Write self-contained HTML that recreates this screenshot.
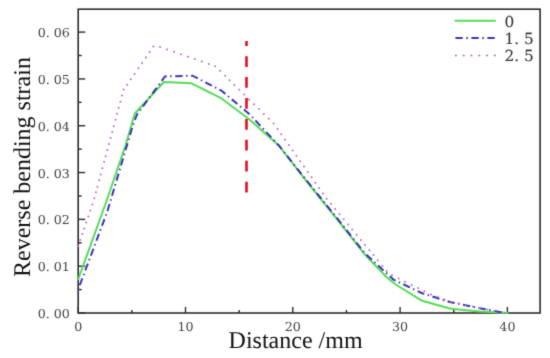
<!DOCTYPE html>
<html><head><meta charset="utf-8"><style>
html,body{margin:0;padding:0;background:#fff;}
body{width:550px;height:358px;overflow:hidden;}
svg{display:block;}
text{text-rendering:geometricPrecision;}
.tl{font-family:"DejaVu Serif",serif;font-size:12.3px;fill:#444;}
.lg{font-family:"DejaVu Serif",serif;font-size:15.3px;fill:#333;stroke:#333;stroke-width:0.1px;}
.tt{font-family:"Liberation Serif",serif;font-size:24px;fill:#111;}
</style></head><body>
<svg width="550" height="358" viewBox="0 0 550 358">
<defs><filter id="soft" filterUnits="userSpaceOnUse" x="0" y="0" width="550" height="358" color-interpolation-filters="sRGB"><feConvolveMatrix order="3" kernelMatrix="1 2 1 2 20 2 1 2 1" divisor="32" edgeMode="duplicate"/></filter></defs>
<g filter="url(#soft)">
<rect x="0" y="0" width="550" height="358" fill="#fff"/>
<rect x="78.2" y="9.2" width="461.9" height="303.8" fill="none" stroke="#2c2c2c" stroke-width="1.6"/>
<line x1="78.2" y1="313.00" x2="85.20" y2="313.00" stroke="#2c2c2c" stroke-width="1.4"/>
<line x1="78.2" y1="289.59" x2="81.70" y2="289.59" stroke="#2c2c2c" stroke-width="1.4"/>
<line x1="78.2" y1="266.18" x2="85.20" y2="266.18" stroke="#2c2c2c" stroke-width="1.4"/>
<line x1="78.2" y1="242.78" x2="81.70" y2="242.78" stroke="#2c2c2c" stroke-width="1.4"/>
<line x1="78.2" y1="219.37" x2="85.20" y2="219.37" stroke="#2c2c2c" stroke-width="1.4"/>
<line x1="78.2" y1="195.96" x2="81.70" y2="195.96" stroke="#2c2c2c" stroke-width="1.4"/>
<line x1="78.2" y1="172.55" x2="85.20" y2="172.55" stroke="#2c2c2c" stroke-width="1.4"/>
<line x1="78.2" y1="149.14" x2="81.70" y2="149.14" stroke="#2c2c2c" stroke-width="1.4"/>
<line x1="78.2" y1="125.73" x2="85.20" y2="125.73" stroke="#2c2c2c" stroke-width="1.4"/>
<line x1="78.2" y1="102.33" x2="81.70" y2="102.33" stroke="#2c2c2c" stroke-width="1.4"/>
<line x1="78.2" y1="78.92" x2="85.20" y2="78.92" stroke="#2c2c2c" stroke-width="1.4"/>
<line x1="78.2" y1="55.51" x2="81.70" y2="55.51" stroke="#2c2c2c" stroke-width="1.4"/>
<line x1="78.2" y1="32.10" x2="85.20" y2="32.10" stroke="#2c2c2c" stroke-width="1.4"/>
<line x1="78.20" y1="313.0" x2="78.20" y2="307.00" stroke="#2c2c2c" stroke-width="1.4"/>
<line x1="131.85" y1="313.0" x2="131.85" y2="310.00" stroke="#2c2c2c" stroke-width="1.4"/>
<line x1="185.50" y1="313.0" x2="185.50" y2="307.00" stroke="#2c2c2c" stroke-width="1.4"/>
<line x1="239.15" y1="313.0" x2="239.15" y2="310.00" stroke="#2c2c2c" stroke-width="1.4"/>
<line x1="292.80" y1="313.0" x2="292.80" y2="307.00" stroke="#2c2c2c" stroke-width="1.4"/>
<line x1="346.45" y1="313.0" x2="346.45" y2="310.00" stroke="#2c2c2c" stroke-width="1.4"/>
<line x1="400.10" y1="313.0" x2="400.10" y2="307.00" stroke="#2c2c2c" stroke-width="1.4"/>
<line x1="453.75" y1="313.0" x2="453.75" y2="310.00" stroke="#2c2c2c" stroke-width="1.4"/>
<line x1="507.40" y1="313.0" x2="507.40" y2="307.00" stroke="#2c2c2c" stroke-width="1.4"/>
<polyline points="78.0,280.0 106.7,200.5 125.5,145.5 134.8,113.5 163.9,82.0 191.5,83.3 220.5,97.8 249.5,119.5 278.8,145.5 307.4,182.3 336.1,218.0 364.8,254.5 387.0,277.5 395.0,284.0 422.1,300.8 450.8,308.7 479.5,311.4 508.2,312.9" fill="none" stroke="#55dc55" stroke-width="2" stroke-linejoin="round"/>
<path d="M78.02 289.96 L78.52 288.60M79.77 285.27 L82.32 278.43M83.56 275.11 L84.07 273.75M85.31 270.42 L87.86 263.58M89.11 260.26 L89.61 258.90M90.86 255.57 L93.41 248.74M94.65 245.41 L95.16 244.05M96.40 240.73 L98.95 233.89M100.20 230.56 L100.70 229.20M101.94 225.88 L104.50 219.04M105.74 215.71 L106.25 214.35M107.49 211.03 L107.50 211.00 L109.57 204.03M110.58 200.63 L110.99 199.24M112.00 195.83 L114.07 188.83M115.08 185.43 L115.49 184.04M116.50 180.64 L118.58 173.64M119.59 170.24 L120.00 168.84M121.01 165.44 L123.08 158.44M124.09 155.04 L124.51 153.65M125.51 150.25 L127.59 143.25M128.60 139.84 L129.01 138.45M130.02 135.05 L132.10 128.05M133.13 124.66 L133.65 123.30M134.91 119.98 L137.00 114.50 L137.85 113.35M139.95 110.49 L140.81 109.32M142.91 106.46 L147.23 100.57M149.34 97.71 L150.20 96.54M152.30 93.68 L156.62 87.80M158.72 84.94 L159.58 83.77M161.68 80.91 L165.00 76.40 L166.70 76.36M170.25 76.27 L171.70 76.23M175.25 76.14 L182.54 75.95M186.09 75.86 L187.54 75.83M191.09 75.74 L192.50 75.70 L197.74 78.40M200.89 80.03 L202.18 80.69M205.34 82.32 L211.82 85.66M214.98 87.29 L216.27 87.95M219.42 89.58 L221.40 90.60 L225.28 93.87M227.99 96.16 L229.10 97.10M231.82 99.38 L237.40 104.09M240.11 106.38 L241.22 107.31M243.93 109.60 L249.52 114.31M252.00 116.83 L252.99 117.89M255.42 120.49 L260.40 125.82M262.83 128.41 L263.82 129.47M266.24 132.07 L271.23 137.40M273.65 139.99 L274.64 141.05M277.06 143.64 L278.80 145.50 L281.76 149.23M283.97 152.01 L284.87 153.14M287.08 155.92 L291.62 161.64M293.83 164.42 L294.73 165.55M296.94 168.33 L301.48 174.05M303.69 176.83 L304.59 177.96M306.80 180.74 L307.40 181.50 L311.38 186.42M313.61 189.18 L314.52 190.31M316.76 193.07 L321.35 198.75M323.58 201.51 L324.49 202.64M326.72 205.40 L331.31 211.08M333.54 213.84 L334.45 214.96M336.68 217.73 L341.21 223.46M343.41 226.24 L344.31 227.38M346.51 230.16 L351.04 235.89M353.24 238.67 L354.14 239.81M356.34 242.60 L360.87 248.32M363.07 251.11 L363.97 252.25M366.43 254.79 L371.81 259.72M374.43 262.12 L375.49 263.10M378.11 265.50 L383.49 270.43M386.11 272.83 L387.18 273.81M389.80 276.21 L393.50 279.60 L395.56 280.58M398.76 282.10 L400.07 282.73M403.28 284.25 L409.87 287.39M413.08 288.91 L414.39 289.53M417.59 291.06 L422.10 293.20 L424.30 293.90M427.69 294.97 L429.07 295.41M432.45 296.48 L439.41 298.69M442.79 299.76 L444.18 300.20M447.56 301.27 L450.80 302.30 L454.62 303.09M458.10 303.80 L459.52 304.09M463.00 304.81 L470.15 306.28M473.62 306.99 L475.04 307.28M478.52 308.00 L479.50 308.20 L485.70 309.34M489.19 309.99 L490.61 310.25M494.11 310.89 L501.28 312.22M504.78 312.86 L505.00 312.90" fill="none" stroke="#3c34bc" stroke-width="2" />
<path d="M78.2 246.1h.01M80.2 240.1h.01M82.3 233.9h.01M84.2 228.4h.01M86.2 222.5h.01M88.3 216.4h.01M90.3 210.6h.01M92.4 204.6h.01M94.3 198.3h.01M95.9 192.3h.01M97.4 186.7h.01M99.2 180.2h.01M100.8 174.4h.01M102.4 168.2h.01M104.1 162.1h.01M105.7 156.2h.01M107.3 150.0h.01M108.9 144.1h.01M110.6 137.9h.01M112.2 131.9h.01M113.8 125.9h.01M115.5 119.8h.01M117.1 113.8h.01M118.7 107.7h.01M120.4 101.7h.01M122.0 95.6h.01M123.7 89.6h.01M127.1 84.7h.01M130.9 79.2h.01M134.5 74.0h.01M138.4 68.3h.01M142.1 62.9h.01M145.9 57.5h.01M149.6 52.1h.01M153.4 46.6h.01M160.0 47.1h.01M167.0 49.4h.01M174.0 51.8h.01M181.0 54.3h.01M187.9 56.7h.01M194.8 59.1h.01M201.8 61.5h.01M208.8 64.0h.01M215.2 66.2h.01M220.0 70.8h.01M225.2 75.8h.01M229.5 80.2h.01M234.4 85.0h.01M239.3 89.8h.01M244.2 94.6h.01M249.1 99.5h.01M254.0 104.3h.01M258.9 109.1h.01M263.8 114.0h.01M268.7 118.7h.01M273.6 123.6h.01M277.5 128.9h.01M281.2 134.2h.01M285.0 139.6h.01M288.9 145.1h.01M292.7 150.5h.01M296.4 155.8h.01M300.2 161.2h.01M304.0 166.5h.01M307.8 171.9h.01M311.6 177.3h.01M315.3 182.7h.01M319.1 188.0h.01M322.9 193.4h.01M326.7 198.8h.01M330.9 203.9h.01M335.2 209.1h.01M339.5 214.2h.01M343.7 219.3h.01M348.1 224.6h.01M352.2 229.6h.01M356.6 234.8h.01M360.9 240.0h.01M365.1 245.0h.01M369.4 250.2h.01M373.5 255.1h.01M377.7 260.2h.01M382.4 265.9h.01M386.7 271.1h.01M392.0 275.3h.01M398.7 278.6h.01M405.0 281.7h.01M411.7 285.0h.01M418.1 288.1h.01M424.4 291.3h.01M431.0 294.5h.01M437.8 297.1h.01M444.5 299.6h.01M451.3 302.1h.01M458.5 303.6h.01M465.7 305.1h.01M472.8 306.6h.01M480.0 308.1h.01M487.3 309.4h.01M494.5 310.7h.01M501.7 312.0h.01" fill="none" stroke="#b86cc0" stroke-width="2" stroke-linecap="round" />
<line x1="246.5" y1="41" x2="246.5" y2="192.4" stroke="#e3101e" stroke-width="2.6" stroke-dasharray="10.74 10.18" stroke-dashoffset="5.74"/>
<line x1="454.6" y1="20.8" x2="495.8" y2="20.8" stroke="#55dc55" stroke-width="2"/>
<line x1="455.4" y1="38" x2="495.8" y2="38" stroke="#3c34bc" stroke-width="2" stroke-dasharray="7.3 3.6 1.5 3.6"/>
<line x1="455.8" y1="55.4" x2="496" y2="55.4" stroke="#b86cc0" stroke-width="2" stroke-linecap="round" stroke-dasharray="0.1 7.7"/>
<text x="504.6" y="27.4" class="lg">0</text>
<text x="504.6" y="43.5" class="lg">1. 5</text>
<text x="504.6" y="61" class="lg">2. 5</text>
<text transform="translate(69.9,318.00) scale(1.03,1.0)" class="tl" text-anchor="end">0. 00</text>
<text transform="translate(69.9,271.18) scale(1.03,1.0)" class="tl" text-anchor="end">0. 01</text>
<text transform="translate(69.9,224.37) scale(1.03,1.0)" class="tl" text-anchor="end">0. 02</text>
<text transform="translate(69.9,177.55) scale(1.03,1.0)" class="tl" text-anchor="end">0. 03</text>
<text transform="translate(69.9,130.73) scale(1.03,1.0)" class="tl" text-anchor="end">0. 04</text>
<text transform="translate(69.9,83.92) scale(1.03,1.0)" class="tl" text-anchor="end">0. 05</text>
<text transform="translate(69.9,37.10) scale(1.03,1.0)" class="tl" text-anchor="end">0. 06</text>
<text transform="translate(78.20,330.6) scale(1.03,1.0)" class="tl" text-anchor="middle">0</text>
<text transform="translate(185.50,330.6) scale(1.03,1.0)" class="tl" text-anchor="middle">10</text>
<text transform="translate(292.80,330.6) scale(1.03,1.0)" class="tl" text-anchor="middle">20</text>
<text transform="translate(400.10,330.6) scale(1.03,1.0)" class="tl" text-anchor="middle">30</text>
<text transform="translate(507.40,330.6) scale(1.03,1.0)" class="tl" text-anchor="middle">40</text>
<text x="228.6" y="348.2" class="tt">Distance /mm</text>
<text transform="translate(29.8,277) rotate(-90)" x="0" y="0" class="tt">Reverse bending strain</text>
</g>
</svg>
</body></html>
